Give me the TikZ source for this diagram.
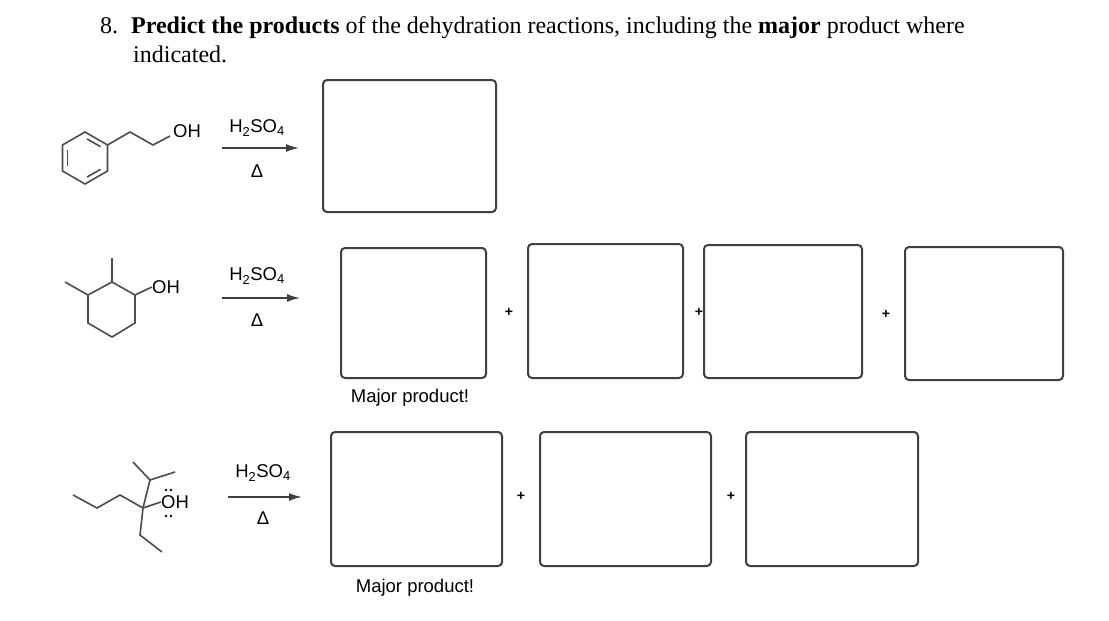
\documentclass[tikz,border=0pt]{standalone}
\usepackage{fontspec}
\setmainfont{Liberation Serif}
\newfontfamily\lsans{Liberation Sans}
\usetikzlibrary{arrows.meta,calc}
\tikzset{x=1pt,y=-1pt,
 bx/.style={draw=black!75,line width=2pt,rounded corners=4pt},
 bond/.style={draw=black!70,line width=1.6pt},
 lab/.style={font=\lsans\fontsize{18.5}{20}\selectfont,inner sep=0pt},
 rxn/.style={draw=black!75,line width=1.6pt,-{Latex[length=13pt,width=8pt]}},
 pl/.style={font=\lsans\bfseries\fontsize{14}{15}\selectfont,inner sep=0pt}}
\begin{document}
\begin{tikzpicture}
\useasboundingbox[fill=white] (0,0) rectangle (1109,621);
\node[anchor=base west,inner sep=0pt,font=\fontsize{24}{27}\selectfont] (q) at (100,34) {8.\hspace{13pt}\textbf{Predict the products} of the dehydration reactions, including the \textbf{major} product where};
\node[anchor=base west,inner sep=0pt,font=\fontsize{24}{27}\selectfont] (q2) at (133,62) {indicated.};
% molecule 1
\coordinate (bc) at (85,158);
\foreach \i in {0,...,5}{\coordinate (b\i) at ($(bc)+(270+60*\i:26)$);}
\draw[bond] (b0)--(b1)--(b2)--(b3)--(b4)--(b5)--cycle;
\foreach \a/\b in {0/1,2/3,4/5}{
 \draw[bond] ($(bc)!0.78!(b\a)!0.12!($(bc)!0.78!(b\b)$)$) -- ($(bc)!0.78!(b\b)!0.12!($(bc)!0.78!(b\a)$)$);}
\node[lab] (oh1) at (187,131) {OH};
\draw[bond] (b1) -- (130,132) -- (153,145) -- (170,136);
% molecule 2
\coordinate (c1) at (135,295); \coordinate (c2) at (112,282); \coordinate (c3) at (88,295);
\coordinate (c4) at (88,323); \coordinate (c5) at (112,337); \coordinate (c6) at (135,323);
\draw[bond] (c1)--(c2)--(c3)--(c4)--(c5)--(c6)--cycle;
\draw[bond] (c2)--(112,258); \draw[bond] (c3)--(65,282);
\node[lab] (oh2) at (166,287) {OH};
\draw[bond] (c1)--(oh2.west);
% molecule 3
\coordinate (m) at (143,508);
\draw[bond] (73,495)--(97,508)--(120,495)--(m);
\draw[bond] (m)--(150,480)--(133,462); \draw[bond] (150,480)--(175,472);
\draw[bond] (m)--(140,535)--(162,552);
\node[lab] (oh3) at (175,502) {OH};
\draw[bond] (m)--(oh3.west);
\foreach \y in {490,516}{\fill (166,\y) circle (1.3pt); \fill (171,\y) circle (1.3pt);}
% arrows
\coordinate (a1s) at (222,148); \coordinate (a1e) at (299,148);
\coordinate (a2s) at (222,298); \coordinate (a2e) at (300,298);
\coordinate (a3s) at (228,497); \coordinate (a3e) at (302,497);
\draw[rxn] (a1s)--(a1e); \draw[rxn] (a2s)--(a2e); \draw[rxn] (a3s)--(a3e);
\node[lab] (r1) at (257,128) {H\textsubscript{2}SO\textsubscript{4}}; \node[lab] (d1) at (257,171) {Δ};
\node[lab] (r2) at (257,276) {H\textsubscript{2}SO\textsubscript{4}}; \node[lab] (d2) at (257,320) {Δ};
\node[lab] (r3) at (263,473) {H\textsubscript{2}SO\textsubscript{4}}; \node[lab] (d3) at (263,518) {Δ};
% boxes
\draw[bx] (323,80) rectangle (496,212);
\draw[bx] (341,248) rectangle (486,378);
\draw[bx] (528,244) rectangle (683,378);
\draw[bx] (704,245) rectangle (862,378);
\draw[bx] (905,247) rectangle (1063,380);
\draw[bx] (331,432) rectangle (502,566);
\draw[bx] (540,432) rectangle (711,566);
\draw[bx] (746,432) rectangle (918,566);
\node[pl] (p1) at (509,312) {+}; \node[pl] (p2) at (699,312) {+}; \node[pl] (p3) at (886,314) {+};
\node[pl] (p4) at (521,496) {+}; \node[pl] (p5) at (731,496) {+};
\node[lab] (mp1) at (410,398) {Major product!};
\node[lab] (mp2) at (415,588) {Major product!};
\end{tikzpicture}
\end{document}
